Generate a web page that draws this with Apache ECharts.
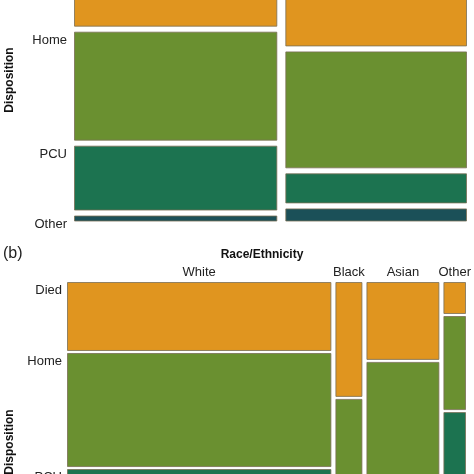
<!DOCTYPE html>
<html lang="en">
<head>
    <meta charset="UTF-8">
    <title>Disposition mosaic</title>
    <style>html,body{margin:0;padding:0;background:#fff}#chart{width:474px;height:474px}</style>
</head>
<body>
<div id="chart"></div>
<script src="https://cdn.jsdelivr.net/npm/echarts@6/dist/echarts.min.js"></script>
<script>
    var dispositions = ['Died', 'Home', 'PCU', 'Other'];
    var colors = ['#E0951F', '#6A9030', '#1C7350', '#1B5058'];

    // panel (a): two columns (top of panel is cropped)
    var aWidths = [0.527, 0.473];
    var aShares = [
        [0.289, 0.416, 0.255, 0.040],
        [0.361, 0.445, 0.128, 0.066]
    ];

    // panel (b): race/ethnicity (bottom of panel is cropped)
    var bGroups = ['White', 'Black', 'Asian', 'Other'];
    var bWidths = [0.666, 0.077, 0.191, 0.066];
    var bShares = [
        [0.263, 0.430, 0.240, 0.067],
        [0.433, 0.400, 0.120, 0.047],
        [0.296, 0.450, 0.190, 0.064],
        [0.126, 0.356, 0.400, 0.118]
    ];

    function buildCells(widths, shares) {
        var out = [];
        var x = 0;
        for (var i = 0; i < widths.length; i++) {
            var y = 0;
            for (var j = 0; j < shares[i].length; j++) {
                out.push([x, x + widths[i], y, y + shares[i][j], j, i]);
                y += shares[i][j];
            }
            x += widths[i];
        }
        return out;
    }

    function makeRender(gx, gy, colLabels) {
        return function (params, api) {
            var p0 = api.coord([api.value(0), api.value(2)]);
            var p1 = api.coord([api.value(1), api.value(3)]);
            var row = api.value(4), col = api.value(5);
            var children = [{
                type: 'rect',
                shape: {x: p0[0] + gx, y: p0[1] + gy, width: p1[0] - p0[0] - 2 * gx, height: p1[1] - p0[1] - 2 * gy},
                style: {fill: colors[row], stroke: '#7a6f55', lineWidth: 0.8}
            }];
            if (col === 0) {
                children.push({
                    type: 'text',
                    style: {text: dispositions[row], x: p0[0] - 3, y: p0[1] + gy + 8, align: 'right',
                        verticalAlign: 'middle', fill: '#222', font: '13px Liberation Sans'}
                });
            }
            if (colLabels && row === 0) {
                children.push({
                    type: 'text',
                    style: {text: colLabels[col], x: (p0[0] + p1[0]) / 2, y: p0[1] - 9, align: 'center',
                        verticalAlign: 'middle', fill: '#222', font: '13px Liberation Sans'}
                });
            }
            return {type: 'group', children: children};
        };
    }

    var chart = echarts.init(document.getElementById('chart'));
    var axX = function (g) { return {gridIndex: g, type: 'value', min: 0, max: 1, show: false}; };
    var axY = function (g, lo, hi) { return {gridIndex: g, type: 'value', min: lo, max: hi, inverse: true, show: false}; };
    chart.setOption({
        animation: false,
        grid: [
            {left: 70, right: 3, top: 0, height: 224},
            {left: 65, right: 6, top: 281, bottom: 0}
        ],
        xAxis: [axX(0), axX(1)],
        yAxis: [axY(0, 0.1825, 1), axY(1, 0, 0.715)],
        graphic: [
            {type: 'text', left: 3, top: 246, style: {text: '(b)', fill: '#222', font: '16px Liberation Sans'}},
            {type: 'text', x: 262, y: 255, style: {text: 'Race/Ethnicity', align: 'center', verticalAlign: 'middle',
                fill: '#111', font: 'bold 12px Liberation Sans'}},
            {type: 'text', x: 10, y: 80, rotation: Math.PI / 2, style: {text: 'Disposition', align: 'center',
                verticalAlign: 'middle', fill: '#111', font: 'bold 12px Liberation Sans'}},
            {type: 'text', x: 10, y: 442, rotation: Math.PI / 2, style: {text: 'Disposition', align: 'center',
                verticalAlign: 'middle', fill: '#111', font: 'bold 12px Liberation Sans'}}
        ],
        series: [
            {type: 'custom', xAxisIndex: 0, yAxisIndex: 0, clip: false,
                renderItem: makeRender(4.5, 3, null), data: buildCells(aWidths, aShares)},
            {type: 'custom', xAxisIndex: 1, yAxisIndex: 1, clip: false,
                renderItem: makeRender(2.5, 1.5, bGroups), data: buildCells(bWidths, bShares)}
        ]
    });
</script>
</body>
</html>
